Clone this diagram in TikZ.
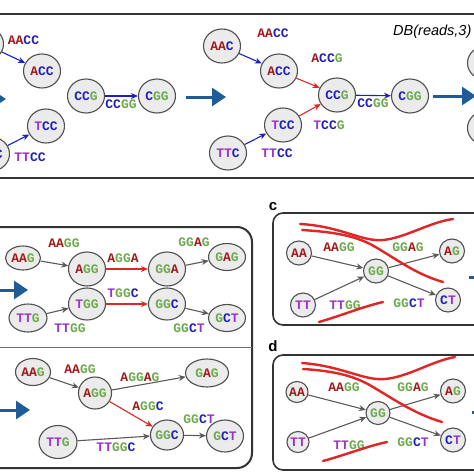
\documentclass[tikz,border=0pt]{standalone}
\usepackage{fontspec}
\setmonofont{Liberation Mono}
\setsansfont{Liberation Sans}
\usetikzlibrary{arrows.meta,shapes.geometric}

\definecolor{ntA}{HTML}{A01818}
\definecolor{ntC}{HTML}{2222B8}
\definecolor{ntG}{HTML}{6CAA4C}
\definecolor{ntT}{HTML}{9A33CC}
\definecolor{bigblue}{HTML}{1D5C96}
\definecolor{kfill}{HTML}{EBEBEB}
\definecolor{kline}{HTML}{4F4F4F}
\definecolor{egray}{HTML}{5A5A5A}
\definecolor{ered}{HTML}{E02525}
\definecolor{eblue}{HTML}{1E1EC8}

% colour every base of a read / k-mer
\def\dna#1{\dnastep#1\relax}
\def\dnastep#1{\ifx#1\relax\else\textcolor{nt#1}{#1}\expandafter\dnastep\fi}

\tikzset{
  kmer/.style={draw=kline, fill=kfill, line width=1.1pt, ellipse, inner sep=0pt,
               minimum width=37pt, minimum height=34pt,
               font=\ttfamily\bfseries\fontsize{13}{13}\selectfont},
  kflat/.style={kmer, minimum height=27pt},
  ksmall/.style={kmer, minimum width=25pt, minimum height=24pt},
  seq/.style={inner sep=0pt, font=\ttfamily\bfseries\fontsize{13}{13}\selectfont},
  toblue/.style={draw=eblue, line width=1.1pt, -{Stealth[length=7pt,width=6pt]}},
  tored/.style={draw=ered, line width=1.1pt, -{Stealth[length=7pt,width=6pt]}},
  togray/.style={draw=egray, line width=1.1pt, -{Stealth[length=7pt,width=6pt]}},
  bigarrow/.style={draw=bigblue, line width=3pt, -{Triangle[length=14pt,width=18pt]}},
  panel/.style={draw=black!80, line width=2pt},
  cut/.style={draw=ered, line width=2.4pt, line cap=round},
  tag/.style={inner sep=0pt, font=\sffamily\bfseries\fontsize{15}{15}\selectfont}
}

\begin{document}
\begin{tikzpicture}[x=1pt, y=-1pt]
  \useasboundingbox[fill=white] (0,0) rectangle (474,474);

  % ---- top panel ----
  \draw[panel] (-10,14) rectangle (484,178);
  \node[anchor=west, inner sep=0pt, font=\sffamily\itshape\fontsize{14.5}{14.5}\selectfont]
    (dbtitle) at (393,32) {DB(reads,3)};

  \node[kmer] (t-AAC1) at (-15,44)  {};
  \node[kmer] (t-ACC1) at (42,71)   {\dna{ACC}};
  \node[kmer] (t-TTC1) at (-9,154)  {\dna{TTC}};
  \node[kmer] (t-TCC1) at (46,126)  {\dna{TCC}};
  \node[kmer] (t-CCG1) at (86,96)   {\dna{CCG}};
  \node[kmer] (t-CGG1) at (157,96)  {\dna{CGG}};

  \node[kmer] (t-AAC2) at (222,46)  {\dna{AAC}};
  \node[kmer] (t-ACC2) at (279,71)  {\dna{ACC}};
  \node[kmer] (t-TTC2) at (228,153) {\dna{TTC}};
  \node[kmer] (t-TCC2) at (283,125) {\dna{TCC}};
  \node[kmer] (t-CCG2) at (337,95)  {\dna{CCG}};
  \node[kmer] (t-CGG2) at (410,96)  {\dna{CGG}};

  \node[kmer] (t-nextA) at (486,63)  {};
  \node[kmer] (t-nextB) at (486,128) {};

  \draw[toblue] (t-AAC1) -- (t-ACC1);
  \draw[toblue] (t-TTC1) -- (t-TCC1);
  \draw[toblue] (t-CCG1) -- (t-CGG1);
  \draw[toblue] (t-AAC2) -- (t-ACC2);
  \draw[toblue] (t-TTC2) -- (t-TCC2);
  \draw[tored]  (t-ACC2) -- (t-CCG2);
  \draw[tored]  (t-TCC2) -- (t-CCG2);
  \draw[toblue] (t-CCG2) -- (t-CGG2);

  \node[seq] (l-t1) at (23.5,40) {\dna{AACC}};
  \node[seq] (l-t2) at (30,157)  {\dna{TTCC}};
  \node[seq] (l-t3) at (121,104) {\dna{CCGG}};
  \node[seq] (l-t4) at (273,33)  {\dna{AACC}};
  \node[seq] (l-t5) at (327,58)  {\dna{ACCG}};
  \node[seq] (l-t6) at (329,125) {\dna{TCCG}};
  \node[seq] (l-t7) at (277,153) {\dna{TTCC}};
  \node[seq] (l-t8) at (373,103) {\dna{CCGG}};

  \coordinate (ta-in)  at (-20,99);  \coordinate (ta-out) at (6,99);
  \coordinate (tb-in)  at (186,97);  \coordinate (tb-out) at (226,97);
  \coordinate (tc-in)  at (433,96);  \coordinate (tc-out) at (476,96);
  \draw[bigarrow] (ta-in) -- (ta-out);
  \draw[bigarrow] (tb-in) -- (tb-out);
  \draw[bigarrow] (tc-in) -- (tc-out);

  % ---- panel b ----
  \draw[panel, rounded corners=15pt] (-20,227) -- (252,227) -- (252,468) -- (-20,468);
  \draw[draw=black!55, line width=1pt] (-20,347) -- (252,347);

  \node[kflat] (b-AAG) at (23,258)  [minimum width=35pt, minimum height=24pt] {\dna{AAG}};
  \node[kmer]  (b-AGG) at (87,269)  {\dna{AGG}};
  \node[kmer]  (b-GGA) at (167,269) {\dna{GGA}};
  \node[kflat] (b-GAG) at (227,257) {\dna{GAG}};
  \node[kflat] (b-TTG) at (28,318)  [minimum width=38pt, minimum height=28pt] {\dna{TTG}};
  \node[kmer]  (b-TGG) at (87,304)  [minimum height=32pt] {\dna{TGG}};
  \node[kmer]  (b-GGC) at (167,304) [minimum height=32pt] {\dna{GGC}};
  \node[kflat] (b-GCT) at (227,318) {\dna{GCT}};

  \draw[togray] (b-AAG) -- (b-AGG);
  \draw[tored]  (b-AGG) -- (b-GGA);
  \draw[togray] (b-GGA) -- (b-GAG);
  \draw[togray] (b-TTG) -- (b-TGG);
  \draw[tored]  (b-TGG) -- (b-GGC);
  \draw[togray] (b-GGC) -- (b-GCT);

  \node[seq] (l-b1) at (64,243)  {\dna{AAGG}};
  \node[seq] (l-b2) at (123,258) {\dna{AGGA}};
  \node[seq] (l-b3) at (194,242) {\dna{GGAG}};
  \node[seq] (l-b4) at (70,328)  {\dna{TTGG}};
  \node[seq] (l-b5) at (123,293) {\dna{TGGC}};
  \node[seq] (l-b6) at (189,328) {\dna{GGCT}};

  \node[kflat] (b-AAG2) at (33,372)  [minimum width=35pt] {\dna{AAG}};
  \node[kmer]  (b-AGG2) at (95,393)  [minimum width=33pt, minimum height=32pt] {\dna{AGG}};
  \node[kflat] (b-GAG2) at (207,373) [minimum width=43pt, minimum height=28pt] {\dna{GAG}};
  \node[kmer]  (b-TTG2) at (58,442)  [minimum width=38pt, minimum height=33pt] {\dna{TTG}};
  \node[kmer]  (b-GGC2) at (167,435) [minimum width=32pt, minimum height=30pt] {\dna{GGC}};
  \node[kmer]  (b-GCT2) at (225,436) [minimum height=32pt] {\dna{GCT}};

  \draw[togray] (b-AAG2) -- (b-AGG2);
  \draw[togray] (b-AGG2) -- (b-GAG2);
  \draw[tored]  (b-AGG2) -- (b-GGC2);
  \draw[togray] (b-TTG2) -- (b-GGC2);
  \draw[togray] (b-GGC2) -- (b-GCT2);

  \node[seq] (l-b7)  at (80,369)  {\dna{AAGG}};
  \node[seq] (l-b8)  at (140,377) {\dna{AGGAG}};
  \node[seq] (l-b9)  at (148,406) {\dna{AGGC}};
  \node[seq] (l-b10) at (116,447) {\dna{TTGGC}};
  \node[seq] (l-b11) at (199,419) {\dna{GGCT}};

  \coordinate (ba-in) at (-20,290); \coordinate (ba-out) at (28,290);
  \coordinate (bb-in) at (-20,410); \coordinate (bb-out) at (30,410);
  \draw[bigarrow] (ba-in) -- (ba-out);
  \draw[bigarrow] (bb-in) -- (bb-out);

  % ---- panel c ----
  \node[tag] (tag-c) at (273,207) {c};
  \draw[panel, line width=1.6pt, rounded corners=10pt] (490,213) -- (273,213) -- (273,325) -- (490,325);

  \node[ksmall] (c-AA) at (299,253) {\dna{AA}};
  \node[ksmall] (c-GG) at (376,271) {\dna{GG}};
  \node[ksmall] (c-AG) at (452,251) {\dna{AG}};
  \node[ksmall] (c-TT) at (303,305) {\dna{TT}};
  \node[ksmall] (c-CT) at (448,300) {\dna{CT}};

  \draw[togray] (c-AA) -- (c-GG);
  \draw[togray] (c-TT) -- (c-GG);
  \draw[togray] (c-GG) -- (c-AG);
  \draw[togray] (c-GG) -- (c-CT);

  \node[seq] (l-c1) at (339,247) {\dna{AAGG}};
  \node[seq] (l-c2) at (408,247) {\dna{GGAG}};
  \node[seq] (l-c3) at (345,305) {\dna{TTGG}};
  \node[seq] (l-c4) at (409,303) {\dna{GGCT}};

  \draw[cut] (300,224) .. controls (340,226) and (362,242) .. (383,240)
                       .. controls (405,238) and (430,222) .. (453,219);
  \draw[cut] (302,230) .. controls (335,232) and (355,236) .. (372,245)
                       .. controls (395,258) and (415,274) .. (443,282);
  \draw[cut] (319,322) .. controls (340,316) and (365,306) .. (383,302);

  \coordinate (ca-in) at (469,277); \coordinate (ca-out) at (515,277);
  \draw[bigarrow] (ca-in) -- (ca-out);

  % ---- panel d ----
  \node[tag] (tag-d) at (273,346) {d};
  \draw[panel, line width=1.6pt, rounded corners=10pt] (490,355) -- (273,355) -- (273,470) -- (490,470);

  \node[ksmall] (d-AA) at (297,392) [minimum width=22pt, minimum height=21pt] {\dna{AA}};
  \node[ksmall] (d-GG) at (378,413) [minimum width=24pt, minimum height=23pt] {\dna{GG}};
  \node[ksmall] (d-AG) at (453,391) {\dna{AG}};
  \node[ksmall] (d-TT) at (298,442) [minimum width=22pt, minimum height=21pt] {\dna{TT}};
  \node[ksmall] (d-CT) at (453,440) {\dna{CT}};

  \draw[togray] (d-AA) -- (d-GG);
  \draw[togray] (d-TT) -- (d-GG);
  \draw[togray] (d-GG) -- (d-AG);
  \draw[togray] (d-GG) -- (d-CT);

  \node[seq] (l-d1) at (344,387) {\dna{AAGG}};
  \node[seq] (l-d2) at (413,387) {\dna{GGAG}};
  \node[seq] (l-d3) at (349,445) {\dna{TTGG}};
  \node[seq] (l-d4) at (413,442) {\dna{GGCT}};

  \draw[cut] (302,363) .. controls (342,366) and (364,381) .. (385,379)
                       .. controls (408,377) and (432,361) .. (455,357);
  \draw[cut] (303,369) .. controls (335,371) and (355,376) .. (373,387)
                       .. controls (395,400) and (415,414) .. (442,422);
  \draw[cut] (323,461) .. controls (345,455) and (368,446) .. (387,442);

  \coordinate (da-in) at (472,412); \coordinate (da-out) at (515,412);
  \draw[bigarrow] (da-in) -- (da-out);
\end{tikzpicture}
\end{document}
